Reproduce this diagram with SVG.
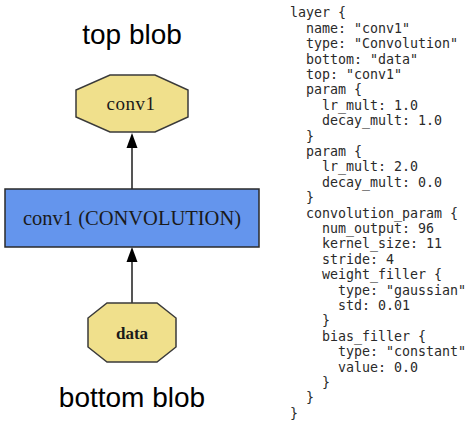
<svg xmlns="http://www.w3.org/2000/svg" width="474" height="427" viewBox="0 0 474 427">
<style>
.lbl{font-family:"Liberation Sans",Arial,sans-serif;font-size:28px;fill:#000;text-anchor:middle}
.blob{fill:#f0e08c;stroke:#3a3a3a;stroke-width:1.5}
.layer{fill:#6495ed;stroke:#2a2a2a;stroke-width:1.5}
.nt{font-family:"Liberation Serif","Times New Roman",serif;fill:#1a1a1a;text-anchor:middle}
.code{font-family:"DejaVu Sans Mono",monospace;font-size:13.3px;fill:#2a2a2a;white-space:pre}
.edge{stroke:#555;stroke-width:2;fill:none}
.head{fill:#000}
</style>
<rect width="474" height="427" fill="#fff"/>
<text class="lbl" x="132" y="44">top blob</text>
<text class="lbl" x="132" y="407">bottom blob</text>
<g id="connectors">
<line class="edge" x1="132" y1="189" x2="132" y2="148"/>
<path class="head" d="M126.5,148 L132,133 L137.5,148 Z"/>
<line class="edge" x1="132" y1="303" x2="132" y2="262"/>
<path class="head" d="M126.5,262 L132,247 L137.5,262 Z"/>
</g>
<g id="conv1_blob">
<polygon class="blob" points="110,75 155,75 188,90 188,117 155,132 110,132 76,117 76,90"/>
<text class="nt" x="131" y="110" font-size="19" letter-spacing="0.5">conv1</text>
</g>
<g id="conv1_layer">
<rect class="layer" x="5" y="189" width="254" height="58"/>
<text class="nt" x="132" y="225" font-size="20.5">conv1 (CONVOLUTION)</text>
</g>
<g id="data_blob">
<polygon class="blob" points="107,303 157,303 176,318 176,347 157,362 107,362 88,347 88,318"/>
<text class="nt" x="132" y="339" font-size="17" font-weight="bold">data</text>
</g>
<g id="prototxt">
<text class="code" x="290" y="17.3">layer {</text>
<text class="code" x="290" y="32.7">  name: "conv1"</text>
<text class="code" x="290" y="48.1">  type: "Convolution"</text>
<text class="code" x="290" y="63.5">  bottom: "data"</text>
<text class="code" x="290" y="78.9">  top: "conv1"</text>
<text class="code" x="290" y="94.3">  param {</text>
<text class="code" x="290" y="109.7">    lr_mult: 1.0</text>
<text class="code" x="290" y="125.1">    decay_mult: 1.0</text>
<text class="code" x="290" y="140.5">  }</text>
<text class="code" x="290" y="155.9">  param {</text>
<text class="code" x="290" y="171.3">    lr_mult: 2.0</text>
<text class="code" x="290" y="186.7">    decay_mult: 0.0</text>
<text class="code" x="290" y="202.1">  }</text>
<text class="code" x="290" y="217.5">  convolution_param {</text>
<text class="code" x="290" y="232.9">    num_output: 96</text>
<text class="code" x="290" y="248.3">    kernel_size: 11</text>
<text class="code" x="290" y="263.7">    stride: 4</text>
<text class="code" x="290" y="279.1">    weight_filler {</text>
<text class="code" x="290" y="294.5">      type: "gaussian"</text>
<text class="code" x="290" y="309.9">      std: 0.01</text>
<text class="code" x="290" y="325.3">    }</text>
<text class="code" x="290" y="340.7">    bias_filler {</text>
<text class="code" x="290" y="356.1">      type: "constant"</text>
<text class="code" x="290" y="371.5">      value: 0.0</text>
<text class="code" x="290" y="386.9">    }</text>
<text class="code" x="290" y="402.3">  }</text>
<text class="code" x="290" y="417.7">}</text>
</g>
</svg>
